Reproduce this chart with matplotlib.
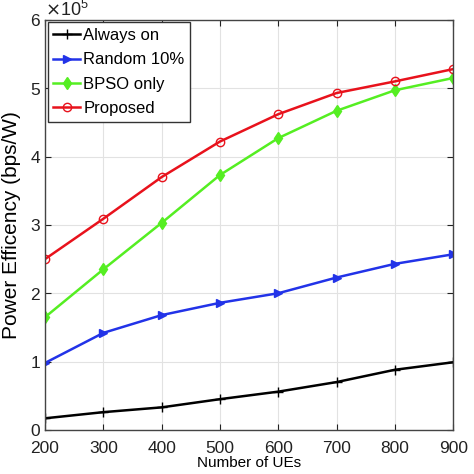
import matplotlib
matplotlib.use("Agg")
import matplotlib.pyplot as plt

# Power efficiency vs number of UEs (values in bps/W)
num_ues = [200, 300, 400, 500, 600, 700, 800, 900]
always_on = [0.17e5, 0.26e5, 0.33e5, 0.45e5, 0.56e5, 0.70e5, 0.88e5, 0.99e5]
random_10 = [0.98e5, 1.42e5, 1.68e5, 1.86e5, 2.00e5, 2.23e5, 2.43e5, 2.57e5]
bpso_only = [1.65e5, 2.35e5, 3.03e5, 3.73e5, 4.27e5, 4.67e5, 4.97e5, 5.15e5]
proposed = [2.50e5, 3.09e5, 3.70e5, 4.22e5, 4.62e5, 4.93e5, 5.10e5, 5.28e5]

plt.rcParams["font.family"] = ["Liberation Sans", "DejaVu Sans"]

fig = plt.figure(figsize=(4.74, 4.74), dpi=100)
ax = fig.add_axes([0.095, 0.093, 0.861, 0.865])

ax.plot(num_ues, always_on, color="black", marker="+", markersize=7, lw=1.8, label="Always on")
ax.plot(num_ues, random_10, color="#2233e8", marker=">", markersize=6, lw=1.8, label="Random 10%")
ax.plot(num_ues, bpso_only, color="#55ee22", marker="d", markersize=6, lw=1.8, label="BPSO only")
ax.plot(num_ues, proposed, color="#e8121c", marker="o", markersize=6, lw=1.8,
        markerfacecolor="none", label="Proposed")

ax.set_xlim(200, 900)
ax.set_ylim(0, 6e5)
ax.set_xticks(num_ues)
ax.set_yticks([0, 1e5, 2e5, 3e5, 4e5, 5e5, 6e5])
ax.ticklabel_format(axis="y", style="sci", scilimits=(5, 5), useMathText=True)
ax.yaxis.get_offset_text().set_fontsize(13)

ax.tick_params(direction="in", top=True, right=True, labelsize=12.5, colors="#222222", length=4)
ax.tick_params(axis="x", pad=8)
ax.tick_params(axis="y", pad=3)
ax.grid(color="#e2e2e2", linewidth=0.8)
for s in ax.spines.values():
    s.set_color("#444444")
    s.set_linewidth(1.0)

ax.set_xlabel("Number of UEs", fontsize=11, labelpad=0)
ax.set_ylabel("Power Efficency (bps/W)", fontsize=15)
ax.yaxis.set_label_coords(-0.058, 0.5)

leg = ax.legend(loc="upper left", fontsize=12, fancybox=False, framealpha=1,
                edgecolor="#333333", handlelength=1.6, handletextpad=0.2,
                borderaxespad=0.15, borderpad=0.35, labelspacing=0.55)
leg.get_frame().set_linewidth(1.0)

fig.savefig("out.png", dpi=100)
